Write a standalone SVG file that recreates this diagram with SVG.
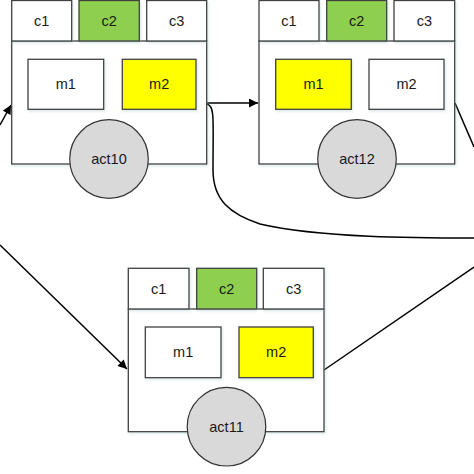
<svg xmlns="http://www.w3.org/2000/svg" width="474" height="474" viewBox="0 0 474 474">
<defs>
<marker id="ah" viewBox="0 0 10 10" refX="10" refY="5" markerWidth="10" markerHeight="9" markerUnits="userSpaceOnUse" orient="auto">
<path d="M0,0 L10,5 L0,10 z" fill="#000"/>
</marker>
<filter id="sh" x="-10%" y="-10%" width="130%" height="130%">
<feDropShadow dx="1" dy="1.5" stdDeviation="1" flood-color="#9bb" flood-opacity="0.35"/>
</filter>
<style>
.box{fill:#fff;stroke:#404040;stroke-width:1.3;filter:url(#sh)}
.g{fill:#8fcf4f}
.y{fill:#ffff00}
.act{fill:#d9d9d9;stroke:#333;stroke-width:1.2}
text{font-family:"Liberation Sans",Arial,sans-serif;font-size:14.5px;fill:#1a1a1a;text-anchor:middle;dominant-baseline:central}
.edge{fill:none;stroke:#000;stroke-width:1.5}
</style>
</defs>
<g id="connectors">
<path class="edge" d="M0,125 L11,105" marker-end="url(#ah)"/>
<path class="edge" d="M207,103 L258,103" marker-end="url(#ah)"/>
<path class="edge" d="M207,104 C215,106 213,120 213,170 C213,200 230,214 260,224 C320,238 420,238 474,238"/>
<path class="edge" d="M455,103 L474,147"/>
<path class="edge" d="M0,245 L127,369" marker-end="url(#ah)"/>
<path class="edge" d="M324,370 L474,267"/>
</g>
<g id="node-act10">
<rect class="box" x="11.7" y="41" width="195" height="123"/>
<rect class="box" x="11.7" y="0.5" width="60" height="40.5"/><text x="41.7" y="21">c1</text>
<rect class="box g" x="79" y="0.5" width="60.3" height="40.5"/><text x="109.2" y="21">c2</text>
<rect class="box" x="146.7" y="0.5" width="60" height="40.5"/><text x="176.7" y="21">c3</text>
<rect class="box" x="28" y="59.3" width="75.7" height="50"/><text x="65.8" y="84">m1</text>
<rect class="box y" x="122.3" y="59.3" width="73.7" height="50"/><text x="159.2" y="84">m2</text>
<circle class="act" cx="109" cy="159" r="39.3"/><text x="109" y="159">act10</text>
</g>
<g id="node-act12">
<rect class="box" x="259" y="41" width="195.7" height="123"/>
<rect class="box" x="259" y="0.5" width="60" height="40.5"/><text x="289" y="21">c1</text>
<rect class="box g" x="326.7" y="0.5" width="60" height="40.5"/><text x="356.7" y="21">c2</text>
<rect class="box" x="394" y="0.5" width="60.7" height="40.5"/><text x="424.3" y="21">c3</text>
<rect class="box y" x="275.7" y="59.3" width="75.6" height="50"/><text x="313.5" y="84">m1</text>
<rect class="box" x="369" y="59.3" width="75" height="50"/><text x="406.5" y="84">m2</text>
<circle class="act" cx="357" cy="159" r="39.3"/><text x="357" y="159">act12</text>
</g>
<g id="node-act11">
<rect class="box" x="128.3" y="309" width="195.7" height="122.7"/>
<rect class="box" x="128.3" y="268.3" width="60.7" height="40.7"/><text x="158.7" y="289">c1</text>
<rect class="box g" x="196.7" y="268.3" width="60" height="40.7"/><text x="226.7" y="289">c2</text>
<rect class="box" x="263.3" y="268.3" width="60.7" height="40.7"/><text x="293.7" y="289">c3</text>
<rect class="box" x="145.3" y="327" width="75.7" height="50.7"/><text x="183.2" y="352.3">m1</text>
<rect class="box y" x="239" y="327" width="74.3" height="50.7"/><text x="276.2" y="352.3">m2</text>
<circle class="act" cx="226.5" cy="426.7" r="39.3"/><text x="226.5" y="426.7">act11</text>
</g>
</svg>
